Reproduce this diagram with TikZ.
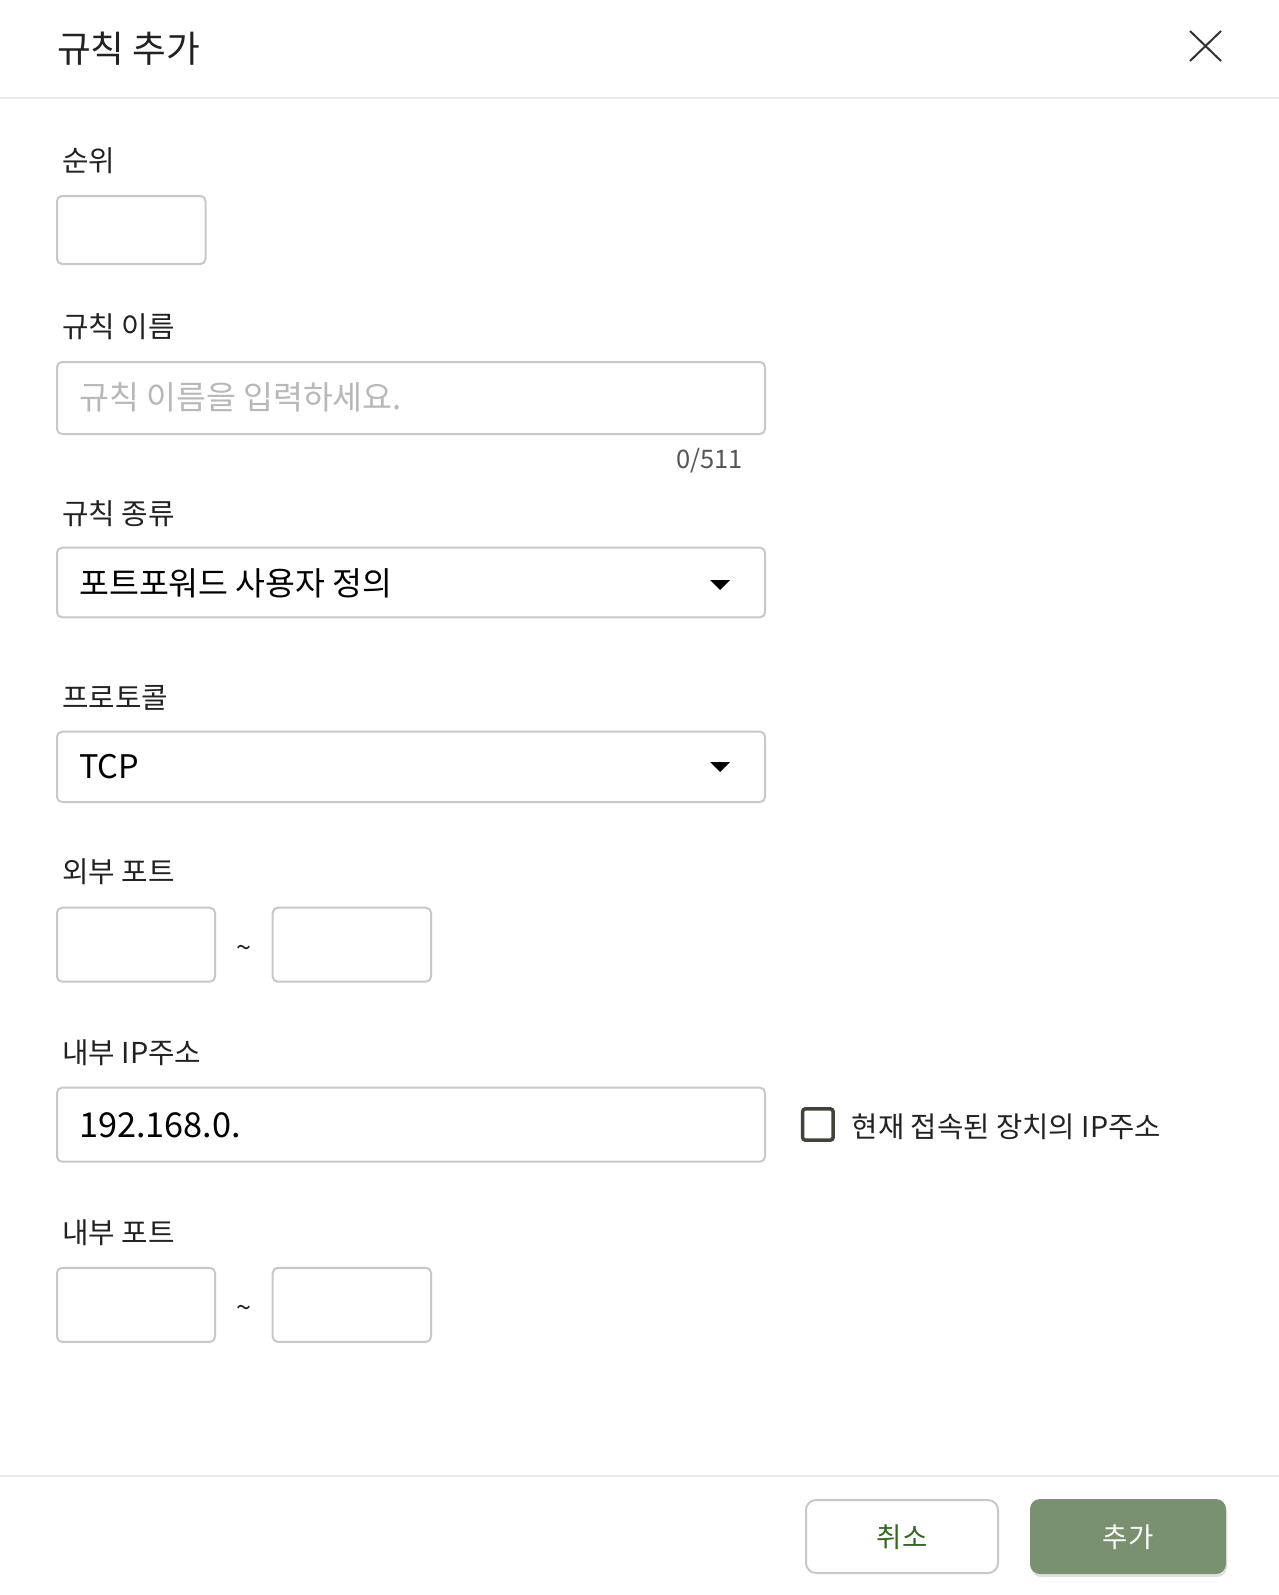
\documentclass[tikz,border=0pt]{standalone}
\usepackage{fontspec}
\setmainfont{Noto Sans CJK KR}
\definecolor{txt}{HTML}{222222}
\definecolor{bord}{HTML}{C8C8C8}
\definecolor{sep}{HTML}{EBEBEB}
\definecolor{ph}{HTML}{B8B8B8}
\definecolor{cnt}{HTML}{555555}
\definecolor{chk}{HTML}{40433A}
\definecolor{grn}{HTML}{2F6A1F}
\definecolor{addfill}{HTML}{7A9170}
\tikzset{
  lbl/.style={anchor=west,inner sep=0pt,text=txt,font=\fontsize{28.8}{33}\selectfont},
  val/.style={anchor=west,inner sep=0pt,text=black,font=\fontsize{32.5}{38}\selectfont},
  field/.style={draw=bord,line width=2pt,rounded corners=5pt,fill=white},
  tilde/.style={inner sep=0pt,text=txt,font=\fontsize{27}{30}\selectfont},
}
\begin{document}
\begin{tikzpicture}[x=1pt,y=-1pt]
\useasboundingbox (0,0) rectangle (1279,1595);
\fill[white] (0,0) rectangle (1279,1595);
% header
\node[anchor=west,inner sep=0pt,text=txt,font=\fontsize{36.7}{42}\selectfont] (title) at (57,48.9) {규칙 추가};
\draw[line width=2pt,color=black!80] (1190,31) -- (1221,61) (1221,31) -- (1190,61);
\draw[sep,line width=2pt] (0,97.7) -- (1279,97.7);
% rank
\node[lbl] (l1) at (62,160.5) {순위};
\draw[field] (57,196) rectangle (205.5,264);
% rule name
\node[lbl] (l2) at (62,326.5) {규칙 이름};
\draw[field] (57,362) rectangle (765,434);
\node[val,text=ph] (ph1) at (79,397) {규칙 이름을 입력하세요.};
\node[anchor=base east,inner sep=0pt,text=cnt,font=\fontsize{25.5}{30}\selectfont] (cnt) at (743,468) {0/511};
% rule type
\node[lbl] (l3) at (62,513.3) {규칙 종류};
\draw[field] (57,547.7) rectangle (765,617.3);
\node[val] (v3) at (79,583.3) {포트포워드 사용자 정의};
\fill (710,580) -- (730,580) -- (720,590) -- cycle;
% protocol
\node[lbl] (l4) at (62,697.8) {프로토콜};
\draw[field] (57,731.7) rectangle (765,802);
\node[val] (v4) at (79,767) {TCP};
\fill (710,762) -- (730,762) -- (720,772) -- cycle;
% external port
\node[lbl] (l5) at (62,871.5) {외부 포트};
\draw[field] (57,907.7) rectangle (215,981.7);
\draw[field] (272.7,907.7) rectangle (431,981.7);
\node[tilde] (t1) at (244,951) {\textasciitilde};
% internal IP
\node[lbl] (l6) at (62,1052.3) {내부 IP주소};
\draw[field] (57,1087.7) rectangle (765,1161.7);
\node[val,font=\fontsize{34.3}{40}\selectfont] (v6) at (79,1125.3) {192.168.0.};
\draw[chk,line width=3.5pt,rounded corners=3pt] (802.5,1108.8) rectangle (833.2,1140.2);
\node[anchor=west,inner sep=0pt,text=txt,font=\fontsize{28.6}{33}\selectfont] (cb) at (851.7,1126.5) {현재 접속된 장치의 IP주소};
% internal port
\node[lbl] (l7) at (62,1232.3) {내부 포트};
\draw[field] (57,1267.8) rectangle (215,1341.8);
\draw[field] (272.7,1267.8) rectangle (431,1341.8);
\node[tilde] (t2) at (244,1311) {\textasciitilde};
% footer
\draw[sep,line width=2pt] (0,1476) -- (1279,1476);
\draw[bord,line width=2pt,rounded corners=10pt,fill=white] (806,1500) rectangle (998,1573);
\node[inner sep=0pt,text=grn,font=\fontsize{27.5}{32}\selectfont] (cancel) at (902,1537.5) {취소};
\fill[black!12,rounded corners=10pt] (1031,1502) rectangle (1227,1577);
\fill[addfill,rounded corners=10pt] (1030,1499) rectangle (1226,1574);
\node[inner sep=0pt,text=white,font=\fontsize{27.5}{32}\selectfont] (add) at (1128,1537.5) {추가};
\end{tikzpicture}
\end{document}
